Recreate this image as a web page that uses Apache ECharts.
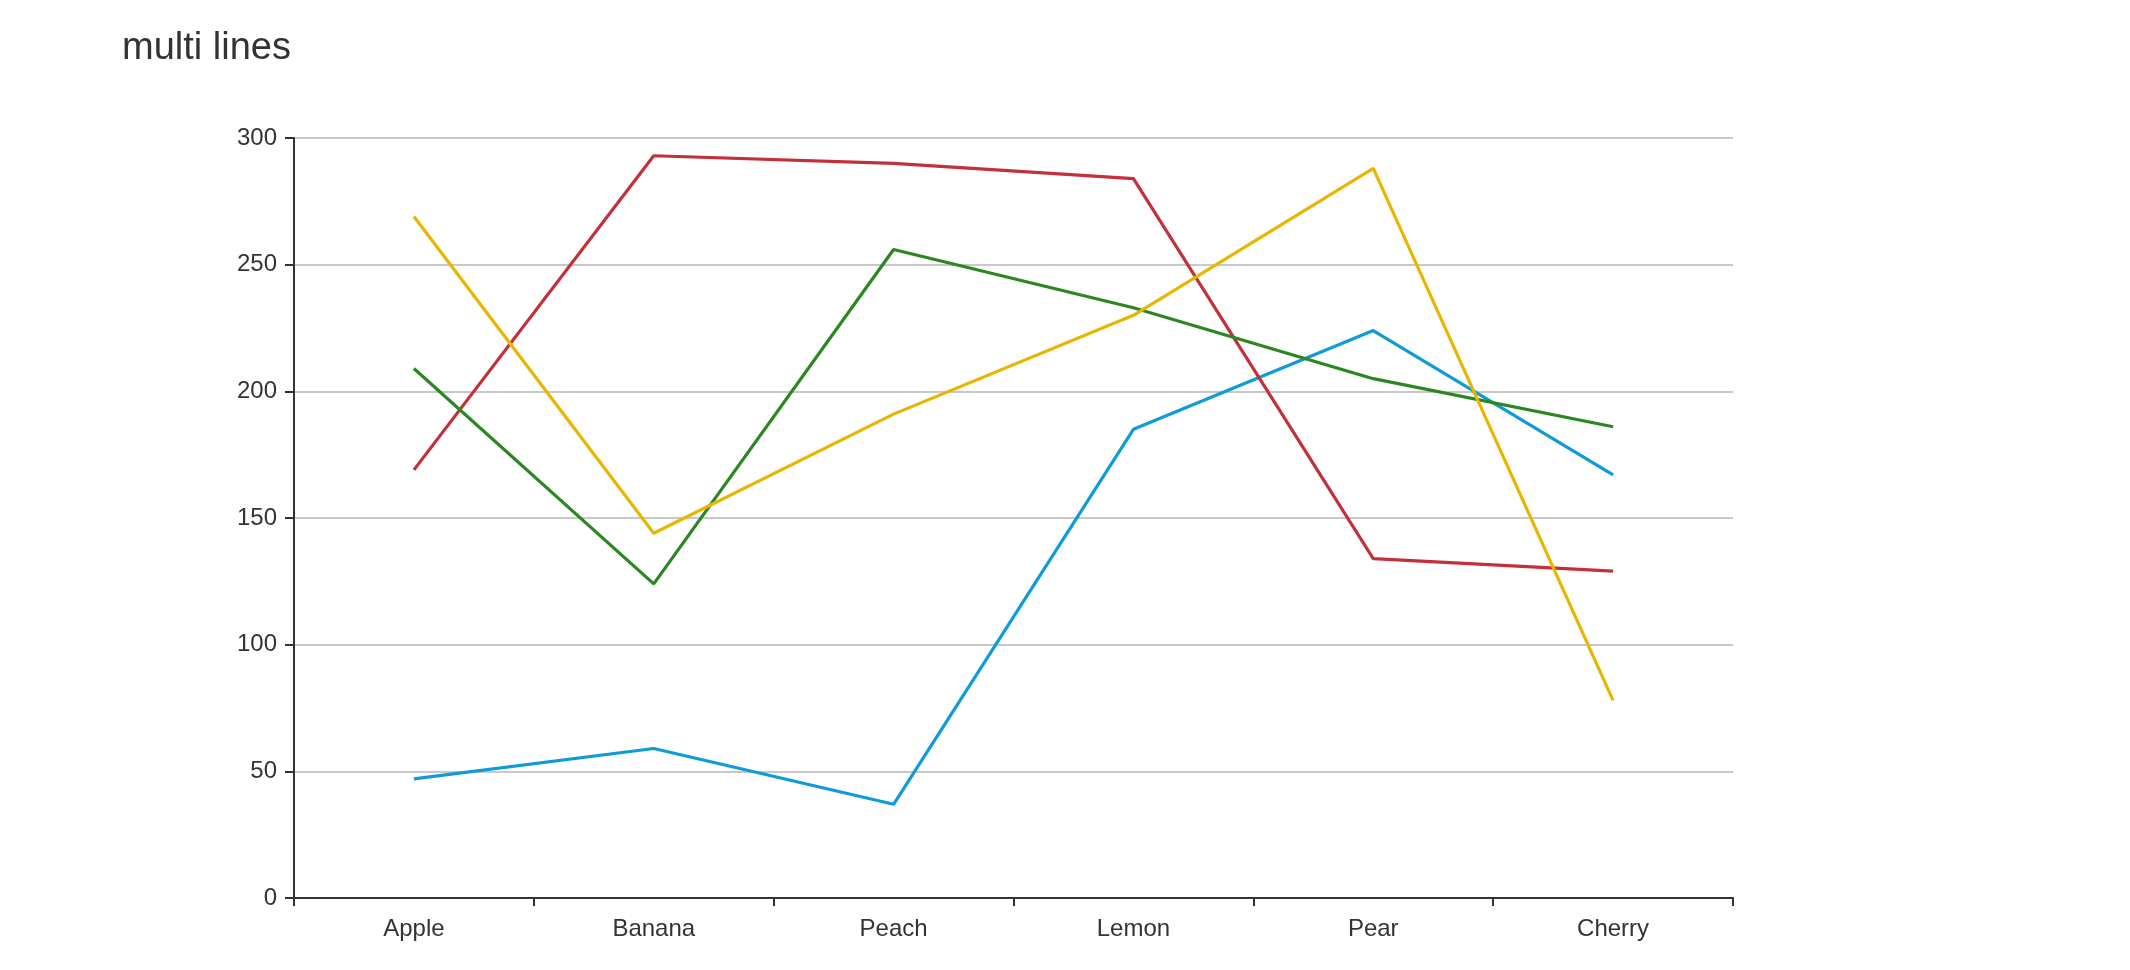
<!DOCTYPE html>
<html>
<head>
<meta charset="utf-8">
<script src="https://cdn.jsdelivr.net/npm/echarts@6/dist/echarts.min.js"></script>
<style>
html,body{margin:0;padding:0;background:#fff;}
#chart{width:2130px;height:970px;}
</style>
</head>
<body>
<div id="chart"></div>
<script>
var categories = ['Apple', 'Banana', 'Peach', 'Lemon', 'Pear', 'Cherry'];
var yTicks = [0, 50, 100, 150, 200, 250, 300];
var blueValues   = [47, 59, 37, 185, 224, 167];
var redValues    = [169, 293, 290, 284, 134, 129];
var greenValues  = [209, 124, 256, 233, 205, 186];
var yellowValues = [269, 144, 191, 230, 288, 78];

var FONT = '"Liberation Sans", Arial, sans-serif';

function lineSeries(name, data, color) {
  return {
    name: name,
    type: 'line',
    data: data,
    symbol: 'none',
    smooth: false,
    lineStyle: { color: color, width: 3.2 },
    itemStyle: { color: color }
  };
}

var chart = echarts.init(document.getElementById('chart'));
chart.setOption({
  animation: false,
  backgroundColor: '#ffffff',
  title: {
    text: 'multi lines',
    left: 117,
    top: 25,
    textStyle: { fontFamily: FONT, fontSize: 38, fontWeight: 'normal', color: '#333333' }
  },
  grid: { left: 294, right: 397, top: 138, bottom: 72, containLabel: false },
  xAxis: {
    type: 'category',
    data: categories,
    boundaryGap: true,
    axisLine: { show: true, lineStyle: { color: '#333333', width: 2 } },
    axisTick: { show: true, length: 8, lineStyle: { color: '#333333', width: 2 } },
    axisLabel: { fontFamily: FONT, fontSize: 24, color: '#333333', margin: 19 },
    splitLine: { show: false }
  },
  yAxis: {
    type: 'value',
    min: yTicks[0],
    max: yTicks[yTicks.length - 1],
    interval: 50,
    axisLine: { show: true, lineStyle: { color: '#333333', width: 2 } },
    axisTick: { show: true, length: 9, lineStyle: { color: '#333333', width: 2 } },
    axisLabel: { fontFamily: FONT, fontSize: 24, color: '#333333', margin: 17, padding: [8, 0, 0, 0] },
    splitLine: { show: true, lineStyle: { color: '#c8c8c8', width: 2 } }
  },
  series: [
    lineSeries('blue', blueValues, '#0e9bd8'),
    lineSeries('red', redValues, '#c4303a'),
    lineSeries('green', greenValues, '#2a8722'),
    lineSeries('yellow', yellowValues, '#e8b600')
  ]
});
</script>
</body>
</html>
